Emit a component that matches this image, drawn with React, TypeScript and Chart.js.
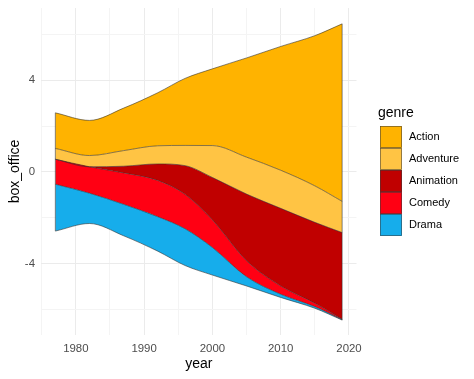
import React, { useEffect, useRef } from "react";
import { Chart, registerables } from "chart.js";
Chart.register(...registerables);

// ---- data ----
const years = [1977, 1982, 1987, 1992, 1996, 2000, 2005, 2010, 2015, 2019];
const genres = ["Action", "Adventure", "Animation", "Comedy", "Drama"];
const action = [1.55, 1.53, 1.85, 2.31, 2.92, 3.34, 4.32, 5.39, 6.54, 7.73];
const adventure = [0.47, 0.49, 0.68, 0.79, 0.88, 1.39, 1.61, 1.66, 1.59, 1.36];
const animation = [0.0, 0.0, 0.29, 0.72, 1.25, 1.85, 2.9, 3.38, 3.52, 3.77];
const comedy = [1.09, 1.15, 1.37, 1.58, 1.5, 1.2, 0.7, 0.36, 0.15, 0.02];
const drama = [2.04, 1.32, 1.37, 1.5, 1.6, 1.2, 0.4, 0.14, 0.07, 0.02];
const genreColors = ["#FFB300", "#FFC444", "#C00000", "#FF0013", "#16ADEB"];
const xMajorTicks = [1980, 1990, 2000, 2010, 2020];
const xGridTicks = [1975, 1980, 1985, 1990, 1995, 2000, 2005, 2010, 2015, 2020];
const yMajorTicks = [-4, 0, 4];
const yGridTicks = [-6, -4, -2, 0, 2, 4, 6];

const FONT = '"Liberation Sans", Arial, sans-serif';
const LINE = "rgba(45,45,45,0.95)";

export default function App() {
  const ref = useRef<HTMLCanvasElement>(null);
  useEffect(() => {
    if (!ref.current) return;
    // stacking order bottom -> top
    const layers = [
      { name: "Drama", vals: drama, color: genreColors[4] },
      { name: "Comedy", vals: comedy, color: genreColors[3] },
      { name: "Animation", vals: animation, color: genreColors[2] },
      { name: "Adventure", vals: adventure, color: genreColors[1] },
      { name: "Action", vals: action, color: genreColors[0] },
    ];
    const totals = years.map((_, i) => layers.reduce((s, l) => s + l.vals[i], 0));
    let cur = totals.map((t) => -t / 2);
    const datasets: any[] = [
      {
        label: "base",
        data: years.map((x, i) => ({ x, y: cur[i] })),
        fill: false,
        borderColor: LINE,
        borderWidth: 0.6,
        pointRadius: 0,
        cubicInterpolationMode: "monotone",
      },
    ];
    layers.forEach((l) => {
      cur = cur.map((c, i) => c + l.vals[i]);
      datasets.push({
        label: l.name,
        data: years.map((x, i) => ({ x, y: cur[i] })),
        fill: "-1",
        backgroundColor: l.color,
        borderColor: LINE,
        borderWidth: 0.6,
        pointRadius: 0,
        cubicInterpolationMode: "monotone",
      });
    });

    const edgePlugin = {
      id: "edges",
      afterDatasetsDraw(chart: any) {
        const { ctx, scales } = chart;
        const first = chart.data.datasets[0].data;
        const last = chart.data.datasets[chart.data.datasets.length - 1].data;
        ctx.save();
        ctx.strokeStyle = LINE;
        ctx.lineWidth = 0.6;
        [0, years.length - 1].forEach((i) => {
          const x = scales.x.getPixelForValue(years[i]);
          ctx.beginPath();
          ctx.moveTo(x, scales.y.getPixelForValue(first[i].y));
          ctx.lineTo(x, scales.y.getPixelForValue(last[i].y));
          ctx.stroke();
        });
        ctx.restore();
      },
    };

    const legendPlugin = {
      id: "ggLegend",
      afterDraw(chart: any) {
        const { ctx } = chart;
        ctx.save();
        ctx.fillStyle = "#000";
        ctx.font = `14px ${FONT}`;
        ctx.textBaseline = "middle";
        ctx.textAlign = "left";
        ctx.fillText("genre", 378, 113);
        genres.forEach((g, i) => {
          const y = 126 + i * 22;
          ctx.fillStyle = genreColors[i];
          ctx.fillRect(380, y, 22, 22);
          ctx.strokeStyle = "rgba(60,60,60,0.9)";
          ctx.lineWidth = 0.6;
          ctx.strokeRect(380.5, y + 0.5, 21, 21);
          ctx.fillStyle = "#000";
          ctx.font = `11px ${FONT}`;
          ctx.fillText(g, 409, y + 11);
        });
        ctx.restore();
      },
    };

    const chart = new Chart(ref.current, {
      type: "line",
      data: { datasets },
      options: {
        animation: false,
        responsive: true,
        maintainAspectRatio: false,
        layout: { padding: { left: 0, right: 117.5, top: 8, bottom: 4 } },
        plugins: {
          legend: { display: false },
          tooltip: { enabled: false },
          filler: { drawTime: "beforeDatasetsDraw" },
        } as any,
        scales: {
          x: {
            type: "linear",
            min: 1974.9,
            max: 2021.1,
            afterBuildTicks: (s: any) => {
              s.ticks = xGridTicks.map((v) => ({ value: v }));
            },
            afterFit: (s: any) => {
              s.height = 40;
              s.paddingLeft = 0;
              s.paddingRight = 0;
            },
            border: { display: false },
            grid: {
              drawTicks: false,
              color: (c: any) => (xMajorTicks.includes(c.tick?.value) ? "#EBEBEB" : "#F4F4F4"),
              lineWidth: 1,
            },
            ticks: {
              autoSkip: false,
              maxRotation: 0,
              padding: 7,
              color: "#4D4D4D",
              font: { family: FONT, size: 11.4 },
              callback: (v: any) => (xMajorTicks.includes(Number(v)) ? String(v) : ""),
            },
            title: {
              display: true,
              text: "year",
              color: "#000",
              font: { family: FONT, size: 14 },
              padding: { top: 0, bottom: 2 },
            },
          },
          y: {
            type: "linear",
            min: -7.1,
            max: 7.14,
            afterBuildTicks: (s: any) => {
              s.ticks = yGridTicks.map((v) => ({ value: v }));
            },
            afterFit: (s: any) => {
              s.width = 41;
              s.paddingTop = 0;
              s.paddingBottom = 0;
            },
            border: { display: false },
            grid: {
              drawTicks: false,
              color: (c: any) => (yMajorTicks.includes(c.tick?.value) ? "#EBEBEB" : "#F4F4F4"),
              lineWidth: 1,
            },
            ticks: {
              autoSkip: false,
              padding: 6,
              color: "#4D4D4D",
              font: { family: FONT, size: 11.4 },
              callback: (v: any) => (yMajorTicks.includes(Number(v)) ? String(v) : ""),
            },
            title: {
              display: true,
              text: "box_office",
              color: "#000",
              font: { family: FONT, size: 14 },
              padding: { top: 7, bottom: 0 },
            },
          },
        },
      } as any,
      plugins: [edgePlugin, legendPlugin],
    });
    return () => chart.destroy();
  }, []);
  return (
    <div style={{ position: "absolute", left: 0, top: 0, width: 474, height: 379, background: "#fff" }}>
      <canvas ref={ref} />
    </div>
  );
}
